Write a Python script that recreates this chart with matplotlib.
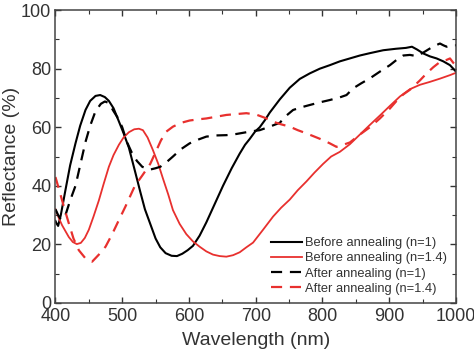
import matplotlib
matplotlib.use("Agg")
import matplotlib.pyplot as plt
from matplotlib.ticker import MultipleLocator

plt.rcParams['font.family'] = ['Liberation Sans', 'DejaVu Sans']

# Before annealing (n=1)
wl_b1 = [400, 402, 404, 408, 415, 422, 430, 437, 445, 452, 460, 467, 474, 480,
         487, 495, 502, 510, 518, 527, 534, 542, 550, 557, 565, 574, 582, 590,
         598, 606, 616, 626, 638, 651, 664, 676, 684, 691, 699, 706, 714, 721,
         736, 751, 766, 781, 796, 811, 826, 841, 856, 871, 891, 910, 925, 934,
         942, 951, 961, 971, 981, 991, 1000]
r_b1 = [28, 27, 26.3, 30, 38.6, 47, 54.5, 60.5, 65.9, 69, 70.7, 71, 70.3, 69,
        66.5, 62, 58, 53, 46, 38, 32, 27, 22, 19, 17, 16.1, 16, 16.8,
        18, 19.5, 23, 27.5, 33.5, 40, 46, 51, 54, 56, 58.5, 60, 62.5, 65,
        69.5, 73.5, 76.5, 78.4, 80, 81.2, 82.5, 83.5, 84.5, 85.3, 86.3, 86.8, 87.1, 87.5,
        86.5, 85.2, 84.2, 83.5, 82.5, 81.2, 79]

# Before annealing (n=1.4)
wl_b14 = [400, 405, 410, 415, 420, 426, 432, 438, 444, 450, 457, 465, 472, 480,
          487, 495, 502, 510, 518, 525, 531, 538, 546, 554, 561, 569, 576, 586,
          596, 606, 616, 626, 636, 646, 656, 666, 676, 686, 696, 711, 726, 738,
          751, 763, 776, 788, 801, 813, 826, 841, 856, 871, 886, 901, 916, 931,
          946, 961, 976, 991, 1000]
r_b14 = [32, 29, 26.5, 24.5, 22.5, 20.8, 20.1, 20.5, 22.2, 25, 29.5, 35, 40.5, 46.5,
         50.5, 54, 56.5, 58.3, 59.3, 59.5, 59, 56.5, 52.2, 47.5, 42.5, 37, 31.7, 27,
         23.5, 21, 19.2, 17.6, 16.5, 16, 15.8, 16.3, 17.3, 19, 20.6, 25, 29.5, 32.5,
         35.3, 38.5, 41.5, 44.5, 47.5, 50, 51.6, 54.2, 57.5, 60.8, 64, 67.3, 70.5, 73,
         74.5, 75.5, 76.6, 77.8, 78.6]

# After annealing (n=1)
wl_a1 = [400, 404, 408, 412, 415, 422, 430, 437, 445, 452, 460, 468, 474, 480,
         487, 494, 500, 507, 514, 522, 530, 541, 550, 557, 566, 576, 588, 601,
         614, 626, 641, 656, 671, 691, 706, 721, 730, 736, 745, 756, 768, 781,
         796, 811, 826, 836, 846, 858, 871, 886, 901, 911, 921, 931, 941, 951,
         961, 968, 976, 981, 986, 993, 1000]
r_a1 = [32, 30, 28.5, 28.8, 30, 35, 40, 47, 55, 60.5, 65.5, 68, 68.8, 68.3,
        65.5, 63, 60, 55, 51.5, 48.5, 46.5, 45.5, 46, 46.5, 48, 50, 52.5, 54.5,
        55.8, 56.8, 57.2, 57.3, 57.7, 58.5, 59, 60.2, 61, 61.5, 63.8, 65.9, 66.8, 67.6,
        68.5, 69.3, 70.2, 71, 73.3, 75, 76.7, 79, 81.2, 83, 84.5, 84.7, 84.3, 85.5,
        86.9, 87.8, 88.6, 88, 87.5, 88, 88]

# After annealing (n=1.4)
wl_a14 = [400, 405, 410, 415, 420, 427, 435, 445, 455, 465, 475, 485, 495, 505,
          519, 530, 542, 550, 558, 566, 576, 588, 601, 614, 626, 641, 656, 671,
          686, 701, 714, 726, 738, 751, 763, 776, 788, 801, 811, 821, 831, 841,
          856, 871, 886, 901, 911, 921, 931, 946, 956, 966, 976, 986, 991, 996,
          1000]
r_a14 = [43, 39, 35, 31, 27.2, 22, 18, 15.2, 14.1, 16.5, 19.2, 23.5, 28.3, 33,
         40, 43.5, 47.5, 51.5, 55.5, 58.5, 60.2, 61.5, 62.3, 62.7, 63, 63.6, 64.2, 64.5,
         64.8, 64.3, 63.2, 61.9, 61, 60.2, 59, 57.9, 56.8, 55.6, 54.5, 53.3, 54, 54.8,
         57.5, 60, 63, 66.4, 69, 71.2, 72.8, 76, 78.4, 80.5, 82.3, 83, 83.5, 82,
         81]

RED = '#e8302e'

fig = plt.figure(figsize=(4.74, 3.49), dpi=100)
ax = fig.add_axes([0.117, 0.132, 0.845, 0.839])

ax.plot(wl_b1, r_b1, color='black', lw=1.5, label='Before annealing (n=1)')
ax.plot(wl_b14, r_b14, color=RED, lw=1.3, label='Before annealing (n=1.4)')
ax.plot(wl_a1, r_a1, color='black', lw=1.6, ls=(0, (5, 3.5)),
        label='After annealing (n=1)')
ax.plot(wl_a14, r_a14, color=RED, lw=1.6, ls=(0, (5, 3.5)),
        label='After annealing (n=1.4)')

ax.set_xlim(400, 1000)
ax.set_ylim(0, 100)
ax.xaxis.set_major_locator(MultipleLocator(100))
ax.xaxis.set_minor_locator(MultipleLocator(50))
ax.yaxis.set_major_locator(MultipleLocator(20))
ax.yaxis.set_minor_locator(MultipleLocator(10))
ax.tick_params(which='both', direction='in', top=True, right=True,
               colors='#333333', labelsize=13)
ax.tick_params(axis='x', pad=4)
ax.tick_params(axis='y', pad=3)
ax.tick_params(which='major', length=4.5, width=1)
ax.tick_params(which='minor', length=3, width=0.8)
for s in ax.spines.values():
    s.set_color('#444444')
    s.set_linewidth(1.1)

ax.set_xlabel('Wavelength (nm)', fontsize=14, color='#333333', labelpad=5)
ax.set_ylabel('Reflectance (%)', fontsize=14, color='#333333', labelpad=1)

leg = ax.legend(loc='lower right', frameon=False, fontsize=9.3,
                handlelength=2.4, handletextpad=0.2, labelspacing=0.25,
                borderaxespad=0.0, bbox_to_anchor=(0.99, 0.01))
for t in leg.get_texts():
    t.set_color('#333333')

fig.savefig('out.png', dpi=100)
